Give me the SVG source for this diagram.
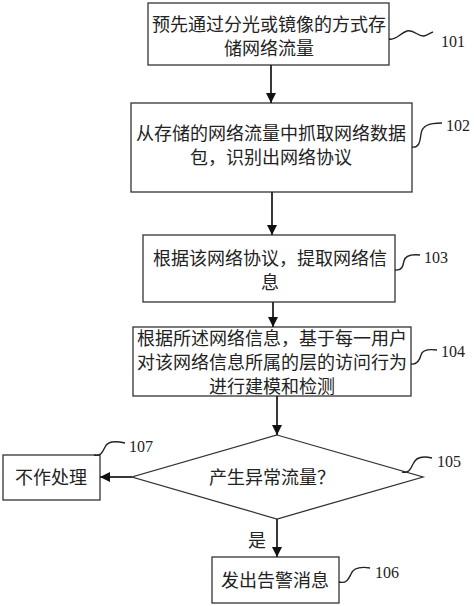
<svg xmlns="http://www.w3.org/2000/svg" width="474" height="606" viewBox="0 0 474 606">
<defs>
<style>
.box{fill:#fff;stroke:#333;stroke-width:1.3}
.t{font-family:"Noto Sans CJK SC","Noto Sans",sans-serif;font-size:18px;fill:#222;text-anchor:middle}
.n{font-family:"Liberation Serif",serif;font-size:16px;fill:#222}
.c{fill:none;stroke:#222;stroke-width:1.8}
.sq{fill:none;stroke:#222;stroke-width:1.4}
</style>
<marker id="ah" markerWidth="10" markerHeight="14" refX="10" refY="5" orient="auto" markerUnits="userSpaceOnUse" viewBox="0 0 10 10">
<path d="M0,0 L10,5 L0,10 Z" fill="#111"/>
</marker>
</defs>
<rect width="474" height="606" fill="#fff"/>
<g id="n101">
<rect class="box" x="148" y="3" width="241" height="62"/>
<text class="t" x="269" y="31">预先通过分光或镜像的方式存</text>
<text class="t" x="269" y="55">储网络流量</text>
<path class="sq" d="M389,39 C396,41 400,33 407,31 C414,29 418,37 424,36 C428,35 430,33 433,32"/>
<text class="n" x="441" y="47">101</text>
</g>
<g id="n102">
<rect class="box" x="131" y="103" width="281" height="89"/>
<text class="t" x="271" y="140">从存储的网络流量中抓取网络数据</text>
<text class="t" x="271" y="164">包，识别出网络协议</text>
<path class="sq" d="M412,147 C419,148 420,142 421,134 C422,126 428,123 442,123"/>
<text class="n" x="446" y="131">102</text>
</g>
<g id="n103">
<rect class="box" x="143" y="235" width="252" height="67"/>
<text class="t" x="270" y="265">根据该网络协议，提取网络信</text>
<text class="t" x="270" y="289">息</text>
<path class="sq" d="M395,270 C402,271 403,266 404,261 C405,256 410,254 420,255"/>
<text class="n" x="424" y="263">103</text>
</g>
<g id="n104">
<rect class="box" x="133" y="327" width="278" height="69"/>
<text class="t" x="272" y="345">根据所述网络信息，基于每一用户</text>
<text class="t" x="272" y="369">对该网络信息所属的层的访问行为</text>
<text class="t" x="272" y="393">进行建模和检测</text>
<path class="sq" d="M411,364 C418,365 420,359 421,355 C422,350 428,349 437,350"/>
<text class="n" x="441" y="357">104</text>
</g>
<g id="n105">
<polygon class="box" points="277,435 423,477 277,519 132,477"/>
<text class="t" x="272" y="484">产生异常流量？</text>
<path class="sq" d="M402,472 C409,474 411,468 413,464 C415,459 420,455 432,458"/>
<text class="n" x="437" y="467">105</text>
</g>
<g id="n106">
<rect class="box" x="212" y="557" width="127" height="46"/>
<text class="t" x="275" y="587">发出告警消息</text>
<path class="sq" d="M339,582 C347,584 349,578 351,574 C353,569 358,566 370,568"/>
<text class="n" x="375" y="578">106</text>
</g>
<g id="n107">
<rect class="box" x="3" y="455" width="97" height="45"/>
<text class="t" x="51" y="484">不作处理</text>
<path class="sq" d="M94,455 C101,457 103,451 105,447 C107,442 112,440 125,443"/>
<text class="n" x="129" y="452">107</text>
</g>
<g id="connectors">
<line class="c" x1="271" y1="65" x2="271" y2="103" marker-end="url(#ah)"/>
<line class="c" x1="272" y1="192" x2="272" y2="235" marker-end="url(#ah)"/>
<line class="c" x1="273" y1="302" x2="273" y2="327" marker-end="url(#ah)"/>
<line class="c" x1="277" y1="396" x2="277" y2="435" marker-end="url(#ah)"/>
<line class="c" x1="132" y1="477" x2="100" y2="477" marker-end="url(#ah)"/>
<line class="c" x1="277" y1="519" x2="277" y2="557" marker-end="url(#ah)"/>
<text class="t" x="257" y="547">是</text>
</g>
</svg>
